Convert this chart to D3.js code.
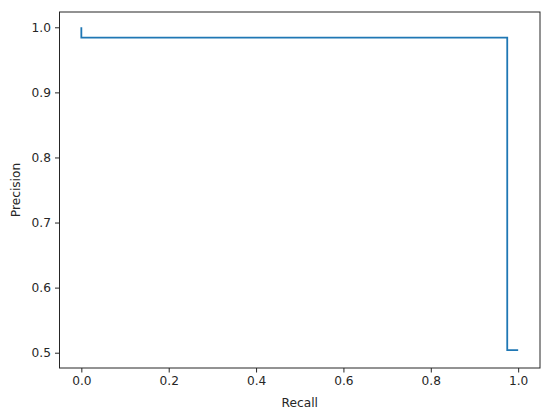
<!DOCTYPE html>
<html lang="en">
<head>
<meta charset="UTF-8">
<script src="https://d3js.org/d3.v7.min.js"></script>
<style>
    body { margin: 0; background: #fff; }
    svg { display: block; }
    text { font-family: 'DejaVu Sans', sans-serif; }
    .tick text { font-size: 12.2px; fill: #262626; }
    .tick line { stroke: #262626; }
    .domain { display: none; }
    .label { font-size: 12.2px; fill: #262626; }
</style>
</head>
<body>
<svg id="chart" width="550" height="416"></svg>
<script>
    // precision-recall curve (sklearn order: recall decreasing)
    const recall = [1.0, 0.975, 0.0];
    const precision = [0.504, 0.984, 1.0];

    const xTicks = [0.0, 0.2, 0.4, 0.6, 0.8, 1.0];
    const yTicks = [0.5, 0.6, 0.7, 0.8, 0.9, 1.0];

    const W = 550, H = 416;
    const m = { left: 59.5, top: 12, right: 10, bottom: 48 };

    const svg = d3.select("#chart");

    const x = d3.scaleLinear().domain([-0.05, 1.05]).range([m.left, W - m.right]);
    const y = d3.scaleLinear().domain([0.4765, 1.0235]).range([H - m.bottom, m.top]);

    // axes
    svg.append("g")
        .attr("transform", `translate(0,${H - m.bottom})`)
        .call(d3.axisBottom(x).tickValues(xTicks).tickFormat(d3.format(".1f")).tickSizeOuter(0).tickSize(4.5).tickPadding(4));

    svg.append("g")
        .attr("transform", `translate(${m.left},0)`)
        .call(d3.axisLeft(y).tickValues(yTicks).tickFormat(d3.format(".1f")).tickSizeOuter(0).tickSize(4.5).tickPadding(4));

    // frame
    svg.append("rect")
        .attr("x", m.left).attr("y", m.top)
        .attr("width", W - m.right - m.left)
        .attr("height", H - m.bottom - m.top)
        .attr("fill", "none")
        .attr("stroke", "#262626")
        .attr("stroke-width", 1);

    // step curve
    const pts = recall.map((r, i) => [r, precision[i]]);
    const line = d3.line()
        .x(d => x(d[0]))
        .y(d => y(d[1]))
        .curve(d3.curveStepAfter);

    svg.append("path")
        .datum(pts)
        .attr("d", line)
        .attr("fill", "none")
        .attr("stroke", "#1f77b4")
        .attr("stroke-width", 1.8);

    // labels
    svg.append("text")
        .attr("class", "label")
        .attr("x", (m.left + W - m.right) / 2)
        .attr("y", 407)
        .attr("text-anchor", "middle")
        .text("Recall");

    svg.append("text")
        .attr("class", "label")
        .attr("transform", `translate(20,${(m.top + H - m.bottom) / 2}) rotate(-90)`)
        .attr("text-anchor", "middle")
        .text("Precision");
</script>
</body>
</html>
